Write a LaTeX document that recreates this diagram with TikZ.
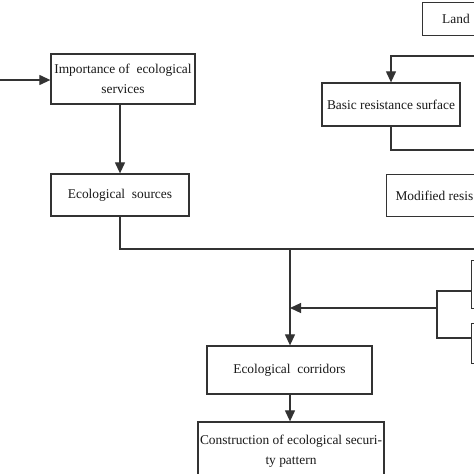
\documentclass[tikz,border=0pt]{standalone}
\usepackage{fontspec}
\setmainfont{Liberation Serif}
\usetikzlibrary{arrows.meta}
\tikzset{
  box/.style={draw=black!80, line width=1.3pt, rectangle, inner sep=0pt, align=center,
    font=\fontsize{13.4}{20.5}\selectfont, text=black!90},
  lbl/.style={font=\fontsize{13.4}{20.5}\selectfont, text=black!90, inner sep=0pt},
  conn/.style={draw=black!80, line width=1.2pt},
  arr/.style={conn, -{Triangle[length=11pt,width=10pt]}},
}
\begin{document}
\begin{tikzpicture}[x=1pt,y=-1pt]
\clip (0,0) rectangle (474,474);
\fill[white] (0,0) rectangle (474,474);
% nodes
\node[box, minimum width=144pt, minimum height=50pt] (imp) at (123,79) {Importance of\ \ ecological\\services};
\node[box, minimum width=138pt, minimum height=42pt] (src) at (120,195) {Ecological\ \ sources};
\node[box, minimum width=165pt, minimum height=48pt] (cor) at (289.5,370) {Ecological\ \ corridors};
\node[box, minimum width=186pt, minimum height=58pt] (con) at (291,451) {Construction of ecological securi-\\ty pattern};
\node[box, minimum width=100pt, minimum height=33pt, anchor=north west] (land) at (422,2) {};
\node[lbl, anchor=west] (landt) at (442,19) {Land};
\node[box, minimum width=138pt, minimum height=43pt] (basic) at (391,104.5) {Basic resistance surface};
\node[box, minimum width=120pt, minimum height=42pt, anchor=north west] (mod) at (386,174) {};
\node[lbl, anchor=east] (modt) at (473.5,196) {Modified resis};
\node[box, minimum width=60pt, minimum height=48pt, anchor=north west] (r1) at (471,260) {};
\node[box, minimum width=60pt, minimum height=40pt, anchor=north west] (r2) at (471,323) {};
% coordinates
\coordinate (lin) at (-5,80);
\coordinate (landout) at (480,56);
\coordinate (basicout) at (480,150);
\coordinate (mainout) at (480,249);
\coordinate (junc) at (290,249);
\coordinate (brk) at (437,308);
% connectors
\draw[arr] (lin) -- (imp.west |- lin);
\draw[arr] (imp.south -| src.north) -- (src.north);
\draw[conn] (src.south) |- (mainout);
\draw[arr] (junc) -- (junc |- cor.north);
\draw[arr] (cor.south -| junc) -- (con.north -| junc);
\draw[arr] (landout) -| (basic.north);
\draw[conn] (basic.south) |- (basicout);
\draw[conn] (r1.west |- 0,291) -| (437,338) -- (r2.west |- 0,338);
\draw[arr] (brk) -- (junc |- brk);
\end{tikzpicture}
\end{document}
